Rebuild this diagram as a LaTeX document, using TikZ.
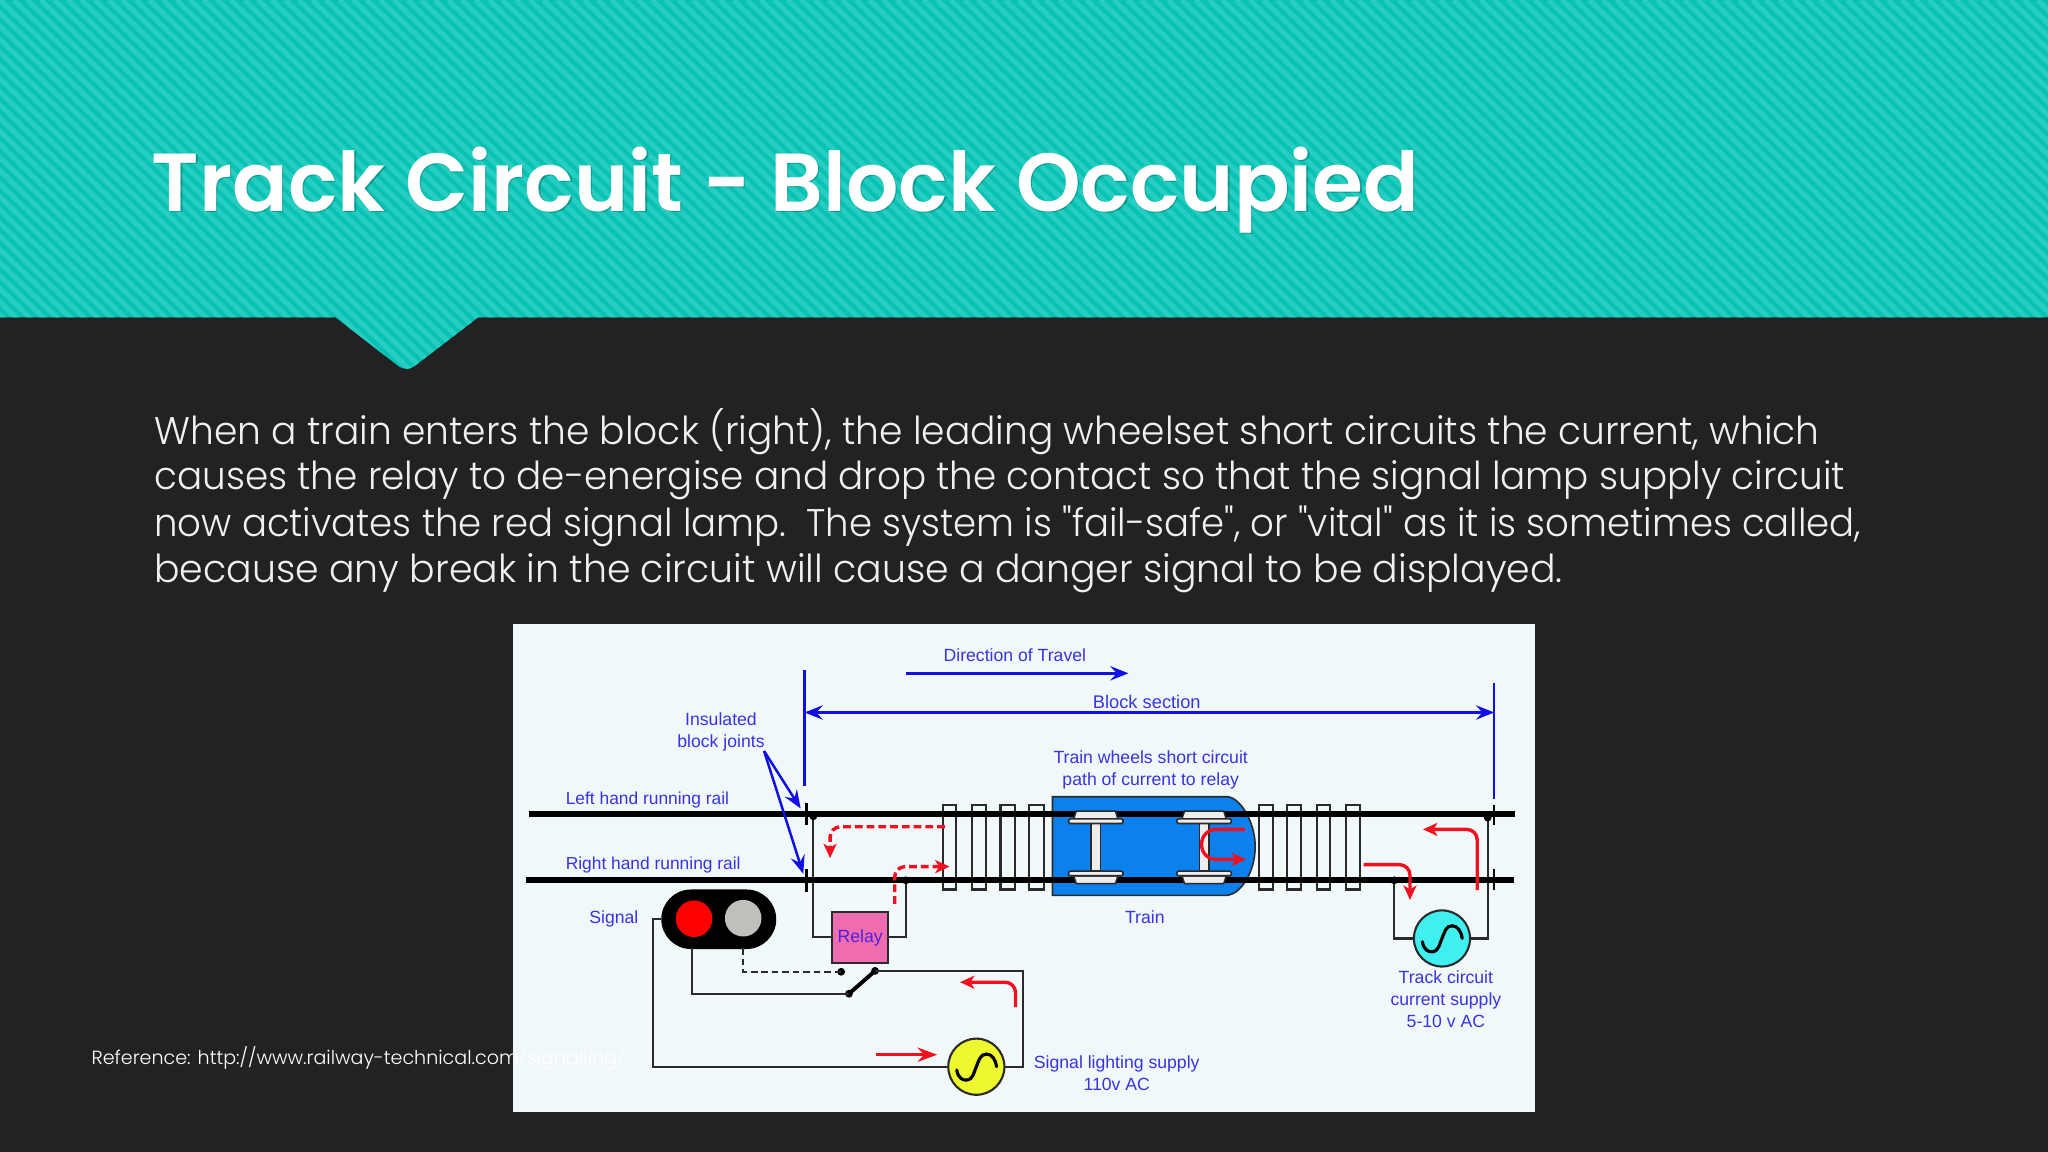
\documentclass[tikz,border=0pt]{standalone}
\usepackage{fontspec}
\usetikzlibrary{arrows.meta}
\setmainfont{Liberation Sans}
\newfontfamily\titlef{Poppins}[UprightFont=* SemiBold]
\newfontfamily\bodyf{Poppins}[UprightFont=* Light]
\definecolor{bgdark}{HTML}{222222}
\definecolor{tealA}{HTML}{08C2B3}
\definecolor{tealB}{HTML}{28CDC2}
\definecolor{panelbg}{HTML}{F0F8FA}
\definecolor{labelblue}{HTML}{3A33E0}
\definecolor{relaytext}{HTML}{5020D8}
\definecolor{linedark}{HTML}{2A2A2A}
\definecolor{pureblue}{HTML}{0F0FE6}
\definecolor{redline}{HTML}{F01020}
\definecolor{trainblue}{HTML}{0C80EC}
\definecolor{lampyellow}{HTML}{EEF82E}
\definecolor{trackcyan}{HTML}{40F0F0}
\definecolor{relaypink}{HTML}{F06CB0}
\definecolor{lampgrey}{HTML}{C0BFBC}
\definecolor{wheelwhite}{HTML}{EFEDEB}
\tikzset{
  x=1pt,y=-1pt,
  lbl/.style={font=\fontsize{13.5}{16.5}\selectfont,text=labelblue,align=center,inner sep=0pt},
  wire/.style={draw=linedark,line width=1.6pt},
  dimline/.style={draw=pureblue,line width=1.9pt},
  dimarrow/.style={dimline,-{Stealth[length=14pt,width=11pt,inset=5pt]}},
  dimboth/.style={dimline,{Stealth[length=14pt,width=11pt,inset=5pt]}-{Stealth[length=14pt,width=11pt,inset=5pt]}},
  railbar/.style={draw=black,line width=4.7pt},
  sleeper/.style={draw=linedark,line width=1.6pt},
  tick/.style={draw=black,line width=1.8pt},
  flow/.style={draw=redline,line width=2.6pt,rounded corners=8pt,-{Stealth[length=11pt,width=10pt,inset=3pt]}},
  flowdash/.style={flow,dash pattern=on 6pt off 3pt},
  jdot/.style={circle,fill=black,inner sep=0pt,minimum size=6pt},
  bodyline/.style={anchor=base west,inner sep=0pt,text=white!94!black,font=\bodyf\fontsize{29.5}{30}\selectfont},
  supply/.style={circle,draw=linedark,line width=1.6pt,minimum size=43pt,inner sep=0pt},
  sinewave/.style={draw=black,line width=2.4pt,line cap=round},
  wheel/.style={fill=wheelwhite,draw=linedark,line width=1.2pt}
}
\begin{document}
\begin{tikzpicture}
\useasboundingbox (0,0) rectangle (1568,882);
\fill[bgdark] (0,0) rectangle (1568,882);
% banner
\begin{scope}
\clip (0,0) -- (1568,0) -- (1568,243) -- (366,243) -- (319.4,278.7) .. controls (314,283.5) and (309,283.5) .. (304,279.5) -- (257,243) -- (0,243) -- cycle;
\fill[tealA] (0,0) rectangle (1568,290);
\foreach \k in {-30,...,190}{
  \draw[tealB,line width=3.8pt] (\k*10.4,0) -- ++(300,290);
}
\end{scope}
\node[anchor=base west,inner sep=0pt,text=black,opacity=.22,font=\titlef\fontsize{63}{63}\selectfont] (titleshadow) at (117,163) {Track Circuit - Block Occupied};
\node[anchor=base west,inner sep=0pt,text=white,font=\titlef\fontsize{63}{63}\selectfont] (title) at (116,162) {Track Circuit - Block Occupied};
\node[bodyline] (b1) at (118,340) {\scalebox{.975}[1]{When a train enters the block (right), the leading wheelset short circuits the current, which}};
\node[bodyline] (b2) at (118,375) {\scalebox{.969}[1]{causes the relay to de-energise and drop the contact so that the signal lamp supply circuit}};
\node[bodyline] (b3) at (118,411) {\scalebox{.962}[1]{now activates the red signal lamp.\ \ The system is "fail-safe", or "vital" as it is sometimes called,}};
\node[bodyline] (b4) at (118,446) {\scalebox{.982}[1]{because any break in the circuit will cause a danger signal to be displayed.}};
% panel
\fill[panelbg] (393,478) rectangle (1175,851);
\node[anchor=base west,inner sep=0pt,text=white,font=\bodyf\fontsize{14.6}{16}\selectfont] (ref) at (70,815) {Reference: http://www.railway-technical.com/signalling/};
% sleepers
\foreach \a/\b in {722/732,744/755,766/777,788/799,964/974.5,985.5/996.3,1008/1018.5,1030.4/1041.5}{
  \draw[sleeper] (\a,616) rectangle (\b,681);
}
% wires
\node[supply,fill=lampyellow] (lampsupply) at (747.5,816.7) {};
\node[supply,fill=trackcyan] (tracksupply) at (1104,718.5) {};
\node[draw=linedark,line width=1.6pt,fill=relaypink,minimum width=43pt,minimum height=39pt,inner sep=0pt,text=relaytext,font=\fontsize{13.5}{16}\selectfont] (relay) at (658.5,718) {Relay};
\node[draw=none,fill=black,rounded corners=22.8pt,minimum width=88pt,minimum height=45.6pt,inner sep=0pt] (signal) at (550.3,703.8) {};
\node[circle,fill=red,minimum size=28pt,inner sep=0pt] (redlamp) at (531.4,703.4) {};
\node[circle,fill=lampgrey,minimum size=28pt,inner sep=0pt] (greylamp) at (569,703) {};
\coordinate (jl1) at (622.7,625);
\coordinate (jr1) at (693.5,674);
\coordinate (jl2) at (1067.5,674);
\coordinate (jr2) at (1139,626);
\draw[wire] (jl1) -- (622.7,717.5) -- (relay.west |- 0,717.5);
\draw[wire] (jr1) -- (693.5,717.5) -- (relay.east |- 0,717.5);
\draw[wire] (jl2) -- (1067.5,718.5) -- (tracksupply.west);
\draw[wire] (jr2) -- (1139,718.5) -- (tracksupply.east);
\node[jdot] (switchtop) at (670,743.3) {};
\node[jdot] (switchbot) at (650,760.8) {};
\node[jdot] (contact) at (644,744) {};
\draw[wire] (signal.west) -- (499.7,703.8) -- (499.7,816.7) -- (lampsupply.west);
\draw[wire] (lampsupply.east) -- (783,816.7) -- (783,743.3) -- (switchtop.center);
\draw[wire] (530,726) -- (530,760.8) -- (switchbot.center);
\draw[wire,dash pattern=on 5pt off 3pt] (569,726) -- (569,744) -- (contact.center);
\draw[draw=black,line width=3pt] (switchtop.center) -- (switchbot.center);
% sine glyphs
\foreach \cx/\cy in {747.5/816.7,1104/718.5}{
\draw[sinewave] (\cx-15,\cy+2.5) .. controls (\cx-14,\cy+9) and (\cx-10,\cy+10.5) .. (\cx-7.4,\cy+10.2) .. controls (\cx-2,\cy+9.5) and (\cx-2,\cy+4) .. (\cx,\cy) .. controls (\cx+2,\cy-5) and (\cx+3,\cy-9.7) .. (\cx+7.9,\cy-9.7) .. controls (\cx+12,\cy-9.7) and (\cx+15,\cy-5) .. (\cx+15.5,\cy);
}
% train
\draw[fill=trainblue,draw=linedark,line width=1.2pt] (805.8,610) -- (940,610) .. controls (950,611) and (961,630) .. (961,648) .. controls (961,668) and (950,684) .. (940,685.5) -- (805.8,685.5) -- cycle;
% rails
\draw[railbar] (405,623.5) -- (1160,623.5);
\draw[railbar] (403,673.5) -- (1159,673.5);
% wheelsets
\foreach \c in {839,921.9}{
  \draw[wheel] (\c-3.6,630) rectangle (\c+3.6,667);
  \draw[wheel] (\c-17,627) -- (\c-15,621) -- (\c+15,621) -- (\c+17,627) -- cycle;
  \draw[wheel,rounded corners=1pt] (\c-20.8,627) rectangle (\c+20.8,630.5);
  \draw[wheel] (\c-17,670.5) -- (\c-15,676.5) -- (\c+15,676.5) -- (\c+17,670.5) -- cycle;
  \draw[wheel,rounded corners=1pt] (\c-20.8,667) rectangle (\c+20.8,670.5);
}
% ticks and dots
\node[jdot] (d1) at (jl1) {};
\node[jdot] (d2) at (jr1) {};
\node[jdot] (d3) at (jl2) {};
\node[jdot] (d4) at (jr2) {};
\draw[tick] (617.5,615) -- (617.5,632);
\draw[tick] (617.5,665) -- (617.5,683);
\draw[tick] (1144,616) -- (1144,632);
\draw[tick] (1144,665.5) -- (1144,681.5);
% blue dimensions
\coordinate (blockL) at (616,513);
\coordinate (blockLb) at (616,602);
\coordinate (blockR) at (1144,523);
\coordinate (blockRb) at (1144,612);
\draw[dimline] (blockL) -- (blockLb);
\draw[dimline] (blockR) -- (blockRb);
\draw[dimboth] (616,545.5) -- (1144,545.5);
\coordinate (dirS) at (694,515.5);
\coordinate (dirE) at (864,515.5);
\draw[dimarrow] (dirS) -- (dirE);
\coordinate (insS) at (585,575);
\coordinate (insA) at (613,619);
\coordinate (insB) at (615,669);
\draw[dimarrow] (insS) -- (insA);
\draw[dimarrow] (insS) -- (insB);
% labels
\node[lbl] (ldir) at (777,501.5) {Direction of Travel};
\node[lbl,font=\fontsize{14}{16}\selectfont] (lblock) at (878,537.5) {Block section};
\node[lbl] (lins) at (552,560.5) {Insulated\\block joints};
\node[lbl] (lwheels) at (881,589.5) {Train wheels short circuit\\path of current to relay};
\node[lbl,anchor=west,font=\fontsize{13.3}{16}\selectfont] (lleft) at (433,612.5) {Left hand running rail};
\node[lbl,anchor=west,font=\fontsize{13.3}{16}\selectfont] (lright) at (433,662.5) {Right hand running rail};
\node[lbl] (lsignal) at (470,703.5) {Signal};
\node[lbl] (ltrain) at (876.5,702.5) {Train};
\node[lbl] (ltrack) at (1107,765) {Track circuit\\current supply\\5-10 v AC};
\node[lbl] (llamp) at (855,821.5) {Signal lighting supply\\110v AC};
% red current flows
\draw[flowdash] (723.5,633) -- (635.5,633) -- (635.5,657);
\draw[flowdash] (685,692) -- (685,663.5) -- (727,663.5);
\draw[flow,rounded corners=11pt] (953,635) -- (920,635) -- (920,658) -- (954,658);
\draw[flow] (1044,662) -- (1079.5,662) -- (1079.5,689);
\draw[flow] (1131,681.5) -- (1131,635) -- (1089.5,635);
\draw[flow] (777.5,771) -- (777.5,752) -- (735,752);
\draw[flow,-{Stealth[length=15pt,width=11pt,inset=5pt]}] (671,807.5) -- (717.5,807.5);
\end{tikzpicture}
\end{document}
